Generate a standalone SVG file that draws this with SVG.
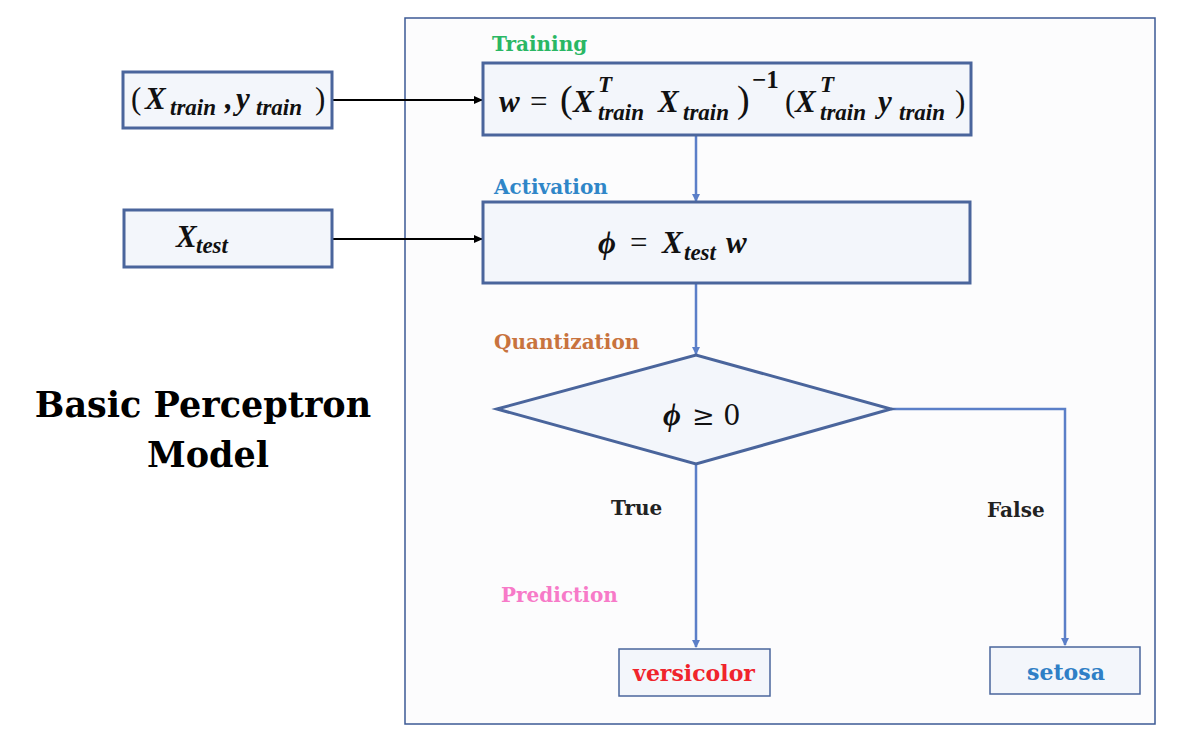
<svg xmlns="http://www.w3.org/2000/svg" width="1191" height="751" viewBox="0 0 1191 751">
<style>
.box{fill:#f3f6fb;stroke:#4a659c;stroke-width:3}
.sm{fill:#f3f6fb;stroke:#4a659c;stroke-width:1.5}
.lbl{font-family:"DejaVu Serif",serif;font-weight:bold;font-size:20px}
.m{font-family:"Liberation Serif",serif;font-style:italic;font-weight:bold;font-size:31px;fill:#111}
.s{font-size:23px}
.n{font-style:normal;font-weight:normal}
.blue{stroke:#5b7fc8;stroke-width:2.5;fill:none}
.blk{stroke:#000;stroke-width:2;fill:none}
</style>
<defs>
<marker id="ab" markerWidth="8" markerHeight="8" refX="7" refY="4" orient="auto" markerUnits="userSpaceOnUse"><path d="M0,0L8,4L0,8z" fill="#5b7fc8"/></marker>
<marker id="ak" markerWidth="9" markerHeight="8" refX="8" refY="4" orient="auto" markerUnits="userSpaceOnUse"><path d="M0,0L9,4L0,8z" fill="#000"/></marker>
</defs>
<rect width="1191" height="751" fill="#fff"/>
<rect x="405" y="18" width="750" height="706" fill="#fcfcfd" stroke="#3c5a95" stroke-width="1.5"/>
<g id="title"><text x="203" y="417" text-anchor="middle" class="lbl" style="font-size:35px" fill="#000">Basic Perceptron</text><text x="208" y="467" text-anchor="middle" class="lbl" style="font-size:35px" fill="#000">Model</text></g>
<g id="labels" class="lbl">
<text x="492" y="51" fill="#2ab764">Training</text>
<text x="494" y="194" fill="#2f86c8">Activation</text>
<text x="494" y="349" fill="#c8733e">Quantization</text>
<text x="501" y="602" fill="#f77ac8">Prediction</text>
<text x="611" y="515" fill="#222">True</text>
<text x="987" y="517" fill="#222">False</text>
</g>
<g id="connectors">
<path class="blk" d="M332,100H482" marker-end="url(#ak)"/>
<path class="blk" d="M332,239H482" marker-end="url(#ak)"/>
<path class="blue" d="M696,135V201" marker-end="url(#ab)"/>
<path class="blue" d="M696,283V354" marker-end="url(#ab)"/>
<path class="blue" d="M696,464V647" marker-end="url(#ab)"/>
<path class="blue" d="M891,409H1065V645" marker-end="url(#ab)"/>
</g>
<g id="input-train"><rect class="box" x="123" y="72" width="209" height="56"/>
<text class="m" y="109"><tspan class="n" x="131">(</tspan><tspan x="145">X</tspan><tspan class="s" x="170" y="115">train</tspan><tspan x="225" y="109">,</tspan><tspan x="236">y</tspan><tspan class="s" x="256" y="115">train</tspan><tspan class="n" x="315" y="109">)</tspan></text></g>
<g id="input-test"><rect class="box" x="124" y="210" width="208" height="57"/>
<text class="m" y="247"><tspan x="176">X</tspan><tspan class="s" x="196" y="253">test</tspan></text></g>
<g id="training"><rect class="box" x="483" y="63" width="488" height="72"/>
<text class="m" y="112"><tspan x="499">w</tspan><tspan class="n" x="530">=</tspan><tspan class="n" x="560" style="font-size:38px">(</tspan><tspan x="573">X</tspan><tspan class="s" x="598" y="92">T</tspan><tspan class="s" x="598" y="120">train</tspan><tspan x="658" y="112">X</tspan><tspan class="s" x="683" y="120">train</tspan><tspan class="n" x="737" y="112" style="font-size:38px">)</tspan><tspan class="s n" x="752" y="88" style="font-weight:bold;font-size:25px">−1</tspan><tspan class="n" x="785" y="112">(</tspan><tspan x="795">X</tspan><tspan class="s" x="820" y="92">T</tspan><tspan class="s" x="820" y="120">train</tspan><tspan x="878" y="112">y</tspan><tspan class="s" x="899" y="120">train</tspan><tspan class="n" x="955" y="112">)</tspan></text></g>
<g id="activation"><rect class="box" x="483" y="202" width="487" height="81"/>
<text class="m" y="253"><tspan x="598">ϕ</tspan><tspan class="n" x="630">=</tspan><tspan x="662">X</tspan><tspan class="s" x="684" y="260">test</tspan><tspan x="726" y="253">w</tspan></text></g>
<g id="quantization"><polygon class="box" points="497,409 696,355 891,409 696,464"/>
<text class="m" y="425"><tspan x="663">ϕ</tspan><tspan class="n" x="692" style="font-family:'DejaVu Serif';font-size:27px">≥ 0</tspan></text></g>
<g id="versicolor"><rect class="sm" x="619" y="649" width="151" height="47"/>
<text class="lbl" x="694" y="681" text-anchor="middle" fill="#f0242c" style="font-size:22px">versicolor</text></g>
<g id="setosa"><rect class="sm" x="990" y="647" width="150" height="47"/>
<text class="lbl" x="1066" y="680" text-anchor="middle" fill="#2f7fc6" style="font-size:22px">setosa</text></g>
</svg>
